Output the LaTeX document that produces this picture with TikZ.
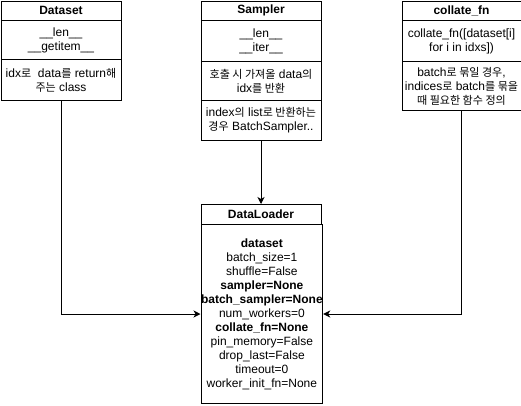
\documentclass[tikz,border=0pt]{standalone}
\usepackage{fontspec}
\setmainfont{Liberation Sans}
\newfontfamily\krfont{Noto Sans CJK KR}[Scale=0.92]
\newcommand{\K}[1]{{\krfont #1}}
\usetikzlibrary{arrows.meta}
\begin{document}
\begin{tikzpicture}[x=1pt,y=-1pt,
  cell/.style={draw,line width=1pt,rectangle,inner sep=0pt,anchor=north west,
    minimum width=120pt,align=center,font=\fontsize{12}{14}\selectfont},
  arr/.style={line width=1pt,-{Stealth[length=7pt,width=7pt,inset=2pt]}}]
\useasboundingbox (0,0) rectangle (521,405);
% Dataset
\node[cell,minimum height=19.5pt,font=\fontsize{12}{14}\selectfont\bfseries] (dsh) at (0.5,0.5) {Dataset};
\node[cell,minimum height=39pt] (dsa) at (0.5,20) {\_\_len\_\_\\\_\_getitem\_\_};
\node[cell,minimum height=41pt] (dsb) at (0.5,59) {idx\K{로}\ \ data\K{를} return\K{해}\\\K{주는} class};
% Sampler
\node[cell,minimum height=19.5pt,font=\fontsize{12}{14}\selectfont\bfseries] (sah) at (200.5,0.5) {Sampler};
\node[cell,minimum height=41pt] (saa) at (200.5,20) {\_\_len\_\_\\\_\_iter\_\_};
\node[cell,minimum height=39pt] (sab) at (200.5,61) {\K{호출 시 가져올} data\K{의}\\idx\K{를 반환}};
\node[cell,minimum height=40pt] (sac) at (200.5,100) {index\K{의} list\K{로 반환하는}\\\K{경우} BatchSampler..};
% collate_fn
\node[cell,minimum width=119pt,minimum height=19.5pt,font=\fontsize{12}{14}\selectfont\bfseries] (coh) at (401.5,0.5) {collate\_fn};
\node[cell,minimum width=119pt,minimum height=41pt] (coa) at (401.5,20) {collate\_fn([dataset[i]\\for i in idxs])};
\node[cell,minimum width=119pt,minimum height=49pt] (cob) at (401.5,61) {batch\K{로 묶일 경우},\\indices\K{로} batch\K{를 묶을}\\\K{때 필요한 함수 정의}};
% DataLoader
\node[cell,minimum height=20pt,font=\fontsize{12}{14}\selectfont\bfseries] (dlh) at (200.5,204) {DataLoader};
\node[cell,minimum height=179pt] (dlb) at (200.5,224) {\textbf{dataset}\\batch\_size=1\\shuffle=False\\\textbf{sampler=None}\\\textbf{batch\_sampler=None}\\num\_workers=0\\\textbf{collate\_fn=None}\\pin\_memory=False\\drop\_last=False\\timeout=0\\worker\_init\_fn=None};
% connectors
\draw[arr] (sac.south) -- (dlh.north);
\draw[arr] (dsb.south) |- (dlb.west);
\draw[arr] (cob.south) |- (dlb.east);
\end{tikzpicture}
\end{document}
